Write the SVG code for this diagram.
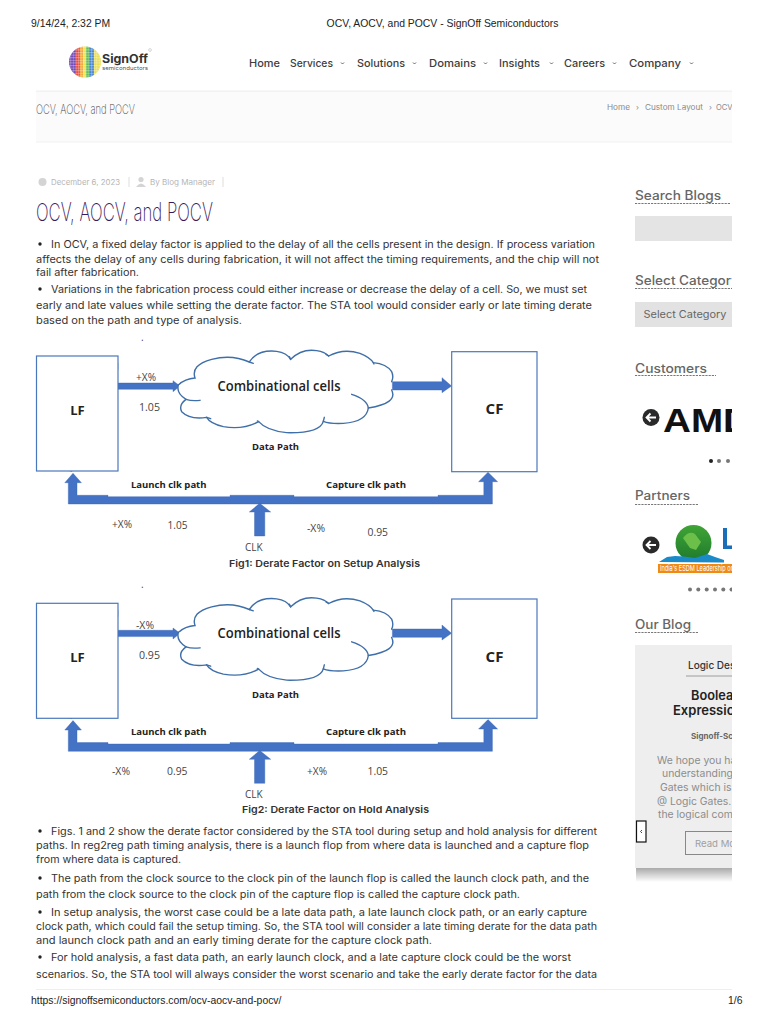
<svg xmlns="http://www.w3.org/2000/svg" width="768" height="1024" viewBox="0 0 768 1024">
<style>
text{font-family:"Inter","Noto Sans",sans-serif}
.hdr{font-family:"Liberation Sans",Arial,sans-serif;font-size:10.4px;fill:#222}
.nav{font-size:10.5px;fill:#3d3d3d;font-weight:500}
.chev{fill:none;stroke:#555;stroke-width:.9}
.crumb{font-size:7.6px;fill:#8a8a8a}
.meta{font-size:7.6px;fill:#b5b5b5}
.div{stroke:#ddd;stroke-width:1}
.body{font-size:10.4px;fill:#333}
.bul{fill:#222}
.box{fill:#fff;stroke:#4a78bd;stroke-width:1.2}
.arr{fill:#4472c4;stroke:#3a66b4;stroke-width:.4}
.cl{fill:none;stroke:#3f6fa8;stroke-width:4.2;stroke-linecap:round}
.fig{font-family:"Open Sans","Noto Sans",sans-serif;fill:#222}
.b{font-weight:700}
.n{font-size:10px;fill:#444}
.sm{font-size:9px;font-weight:700}
.cap{font-family:"Inter",sans-serif;font-size:9.6px;font-weight:600;fill:#333}
.wh{font-size:12.6px;fill:#666;font-weight:500}
.dash{stroke:#555;stroke-width:.8;stroke-dasharray:2.2 1}
.dot{fill:#777}
.blog{font-size:10.4px;fill:#8c8c8c}
</style>
<defs>
<clipPath id="page"><rect x="0" y="0" width="732" height="1024"/></clipPath>
<clipPath id="wafer"><ellipse cx="85" cy="62" rx="16" ry="15.5"/></clipPath>
<pattern id="grid" width="2.6" height="2.6" patternUnits="userSpaceOnUse"><rect x="0" y="0" width="1.1" height="2.6" fill="#fff" opacity=".25"/><rect x="0" y="0" width="2.6" height="1.1" fill="#fff" opacity=".35"/></pattern>
<linearGradient id="shadow" x1="0" y1="0" x2="0" y2="1"><stop offset="0" stop-color="#aaa"/><stop offset="1" stop-color="#fff"/></linearGradient>
<linearGradient id="globe" x1="0" y1="0" x2="0" y2="1"><stop offset="0" stop-color="#3fa535"/><stop offset="1" stop-color="#1f7a2d"/></linearGradient>
<g id="cloud">
<g transform="translate(170 340) scale(.3333)">
<path d="M25 135Q45 116 75 114Q62 75 125 58Q185 42 238 66Q262 28 320 34Q350 38 362 58Q395 25 440 32Q465 36 476 48Q520 24 570 40Q600 52 610 68Q650 72 665 95Q672 110 665 125" fill="#fff" class="cl"/>
<path d="M665 150Q685 190 595 204Q590 245 520 250Q480 252 460 244Q450 280 350 278Q290 272 266 245Q220 270 160 260Q120 250 110 232Q60 240 35 215Q25 195 48 178Q18 160 25 135Z" fill="#fff" stroke="none"/>
<path d="M665 150Q685 190 595 204Q590 245 520 250Q480 252 460 244Q450 280 350 278Q290 272 266 245Q220 270 160 260Q120 250 110 232Q60 240 35 215Q25 195 48 178Q18 160 25 135" class="cl"/>
<path d="M48 178Q65 184 90 181M595 204Q592 178 545 163M460 244L463 232M266 245L262 243M110 232L122 236M238 66L250 70M362 58L358 50M476 48L468 43M610 68L612 72" class="cl"/>
</g>
</g>
<g id="wires">
<polygon class="arr" points="118,383 173,383 173,380.7 180,386 173,391.7 173,389.3 118,389.3"/>
<polygon class="arr" points="392.4,381.7 442,381.7 442,377.7 451.5,386 442,392.7 442,390 392.4,390"/>
<polygon class="arr" points="68.3,504 68.3,482.7 64.8,482.7 73,473.3 81.4,482.7 77,482.7 77,495.3 108,495.3 108,496.7 230,496.7 230,495.3 294,495.3 294,496.7 438,496.7 438,495.3 483.8,495.3 483.8,481.7 478.6,481.7 488,472.3 497.6,481.7 492.4,481.7 492.4,504"/>
<polygon class="arr" points="254.5,536 254.5,512 249.3,512 259.7,503.3 270.7,512 264.8,512 264.8,536"/>
<polygon class="arr" points="118,363 118,369.5 114.5,366.5"/>
<polygon class="arr" points="66,470 72,467.5 72,471.5"/>
</g>
</defs>
<rect width="768" height="1024" fill="#fff"/>

<g id="page-header">
<text class="hdr" x="31" y="27">9/14/24, 2:32 PM</text>
<text class="hdr" x="442.5" y="27" text-anchor="middle">OCV, AOCV, and POCV - SignOff Semiconductors</text>
</g>

<g id="logo">
<g clip-path="url(#wafer)">
<rect x="68" y="46" width="8" height="32" fill="#6a3fb0"/>
<rect x="76" y="46" width="4" height="32" fill="#e8453a"/>
<rect x="80" y="46" width="3" height="32" fill="#f0a030"/>
<rect x="83" y="46" width="3" height="32" fill="#f0e040"/>
<rect x="86" y="46" width="3" height="32" fill="#58b848"/>
<rect x="89" y="46" width="5" height="32" fill="#3f7fd0"/>
<rect x="94" y="46" width="8" height="32" fill="#e8dc50"/>
<rect x="68" y="46" width="34" height="32" fill="url(#grid)"/>
</g>
<text x="102" y="63" font-size="11.8" font-weight="700" fill="#333" textLength="46" lengthAdjust="spacingAndGlyphs">SignOff</text>
<text x="102" y="69.5" font-size="5.2" fill="#555" textLength="46" lengthAdjust="spacingAndGlyphs">semiconductors</text>
<circle cx="150" cy="50" r="1.4" fill="none" stroke="#999" stroke-width=".4"/>
</g>

<g id="nav">
<text class="nav" x="249" y="66.5" textLength="31" lengthAdjust="spacingAndGlyphs">Home</text>
<text class="nav" x="290" y="66.5" textLength="43" lengthAdjust="spacingAndGlyphs">Services</text>
<text class="nav" x="357" y="66.5" textLength="48" lengthAdjust="spacingAndGlyphs">Solutions</text>
<text class="nav" x="429" y="66.5" textLength="47" lengthAdjust="spacingAndGlyphs">Domains</text>
<text class="nav" x="499" y="66.5" textLength="41" lengthAdjust="spacingAndGlyphs">Insights</text>
<text class="nav" x="564" y="66.5" textLength="41" lengthAdjust="spacingAndGlyphs">Careers</text>
<text class="nav" x="629" y="66.5" textLength="52" lengthAdjust="spacingAndGlyphs">Company</text>
<path class="chev" d="M341 62.5l1.5 1.5 1.5-1.5M413 62.5l1.5 1.5 1.5-1.5M484 62.5l1.5 1.5 1.5-1.5M550 62.5l1.5 1.5 1.5-1.5M613 62.5l1.5 1.5 1.5-1.5M690 62.5l1.5 1.5 1.5-1.5"/>
</g>

<g id="breadcrumb-band" clip-path="url(#page)">
<rect x="36" y="91" width="696" height="51" fill="#fbfbfb"/>
<rect x="36" y="90.5" width="696" height="1.5" fill="#f2f2f2"/>
<rect x="36" y="141.5" width="696" height="1" fill="#f2f2f2"/>
<text x="36" y="114" font-size="13" font-weight="200" fill="#444" textLength="99" lengthAdjust="spacingAndGlyphs">OCV, AOCV, and POCV</text>
<text class="crumb" x="607" y="109.5" textLength="23" lengthAdjust="spacingAndGlyphs">Home</text>
<text class="crumb" x="636" y="109.5">›</text>
<text class="crumb" x="645" y="109.5" textLength="58" lengthAdjust="spacingAndGlyphs">Custom Layout</text>
<text class="crumb" x="709" y="109.5">›</text>
<text class="crumb" x="716" y="109.5">OCV</text>
</g>

<g id="post-meta">
<circle cx="42.5" cy="182" r="4" fill="#d4d4d4"/>
<text class="meta" x="51" y="185" textLength="69" lengthAdjust="spacingAndGlyphs">December 6, 2023</text>
<line class="div" x1="129" y1="177" x2="129" y2="187"/>
<circle cx="141" cy="179.5" r="2.6" fill="#d4d4d4"/><path d="M136 187q5-7 10 0z" fill="#d4d4d4"/>
<text class="meta" x="150" y="185" textLength="65" lengthAdjust="spacingAndGlyphs">By Blog Manager</text>
<line class="div" x1="223" y1="177" x2="223" y2="187"/>
</g>

<text id="post-title" x="36" y="221" font-size="25" font-weight="200" fill="#3a1a5c" textLength="177" lengthAdjust="spacingAndGlyphs">OCV, AOCV, and POCV</text>

<g id="para-top">
<circle class="bul" cx="40" cy="244" r="1.7"/>
<text class="body" x="51" y="248" textLength="544" lengthAdjust="spacingAndGlyphs">In OCV, a fixed delay factor is applied to the delay of all the cells present in the design. If process variation</text>
<text class="body" x="36" y="262.5" textLength="563" lengthAdjust="spacingAndGlyphs">affects the delay of any cells during fabrication, it will not affect the timing requirements, and the chip will not</text>
<text class="body" x="36" y="276" textLength="103" lengthAdjust="spacingAndGlyphs">fail after fabrication.</text>
<circle class="bul" cx="40" cy="289" r="1.7"/>
<text class="body" x="51" y="293" textLength="536" lengthAdjust="spacingAndGlyphs">Variations in the fabrication process could either increase or decrease the delay of a cell. So, we must set</text>
<text class="body" x="36" y="308.5" textLength="556" lengthAdjust="spacingAndGlyphs">early and late values while setting the derate factor. The STA tool would consider early or late timing derate</text>
<text class="body" x="36" y="324" textLength="206" lengthAdjust="spacingAndGlyphs">based on the path and type of analysis.</text>
</g>

<g id="connectors">
<use href="#wires"/>
<use href="#wires" y="247.3"/>
</g>

<g id="fig1">
<text class="fig n" x="141" y="341">.</text>
<g id="fig1-lf"><rect class="box" x="36.5" y="356" width="81.5" height="115"/><text class="fig b" x="77.5" y="415" font-size="13" text-anchor="middle">LF</text></g>
<g id="fig1-cf"><rect class="box" x="451.7" y="351.7" width="85.3" height="120"/><text class="fig b" x="494.5" y="414" font-size="15" text-anchor="middle">CF</text></g>
<g id="fig1-cloud"><use href="#cloud"/><text class="fig" x="217.5" y="391" font-size="14" font-weight="600" textLength="123" lengthAdjust="spacingAndGlyphs">Combinational  cells</text></g>
<text class="fig n" x="136" y="381" textLength="20" lengthAdjust="spacingAndGlyphs">+X%</text>
<text class="fig n" x="139" y="411" textLength="21" lengthAdjust="spacingAndGlyphs">1.05</text>
<text class="fig sm" x="252" y="450" textLength="47" lengthAdjust="spacingAndGlyphs">Data Path</text>
<text class="fig sm" x="131" y="488" textLength="75.5" lengthAdjust="spacingAndGlyphs">Launch clk path</text>
<text class="fig sm" x="326" y="488" textLength="80" lengthAdjust="spacingAndGlyphs">Capture clk path</text>
<text class="fig n" x="112" y="528" textLength="20" lengthAdjust="spacingAndGlyphs">+X%</text>
<text class="fig n" x="167.5" y="528.5" textLength="20" lengthAdjust="spacingAndGlyphs">1.05</text>
<text class="fig n" x="307" y="532" textLength="18" lengthAdjust="spacingAndGlyphs">-X%</text>
<text class="fig n" x="367.5" y="536" textLength="20.5" lengthAdjust="spacingAndGlyphs">0.95</text>
<text class="fig n" x="245" y="550.5" textLength="17.5" lengthAdjust="spacingAndGlyphs">CLK</text>
<text class="cap" x="229" y="566.5" textLength="191" lengthAdjust="spacingAndGlyphs">Fig1: Derate Factor on Setup Analysis</text>
</g>

<g id="fig2">
<text class="fig n" x="141" y="588">.</text>
<g id="fig2-lf"><rect class="box" x="36.5" y="603.3" width="81.5" height="115"/><text class="fig b" x="77.5" y="662" font-size="13" text-anchor="middle">LF</text></g>
<g id="fig2-cf"><rect class="box" x="451.7" y="599" width="85.3" height="119.3"/><text class="fig b" x="494.5" y="661.5" font-size="15" text-anchor="middle">CF</text></g>
<g id="fig2-cloud"><use href="#cloud" y="247.5"/><text class="fig" x="217.5" y="638" font-size="14" font-weight="600" textLength="123" lengthAdjust="spacingAndGlyphs">Combinational  cells</text></g>
<text class="fig n" x="136" y="628.5" textLength="18" lengthAdjust="spacingAndGlyphs">-X%</text>
<text class="fig n" x="139" y="658.5" textLength="21" lengthAdjust="spacingAndGlyphs">0.95</text>
<text class="fig sm" x="252" y="697.5" textLength="47" lengthAdjust="spacingAndGlyphs">Data Path</text>
<text class="fig sm" x="131" y="735" textLength="75.5" lengthAdjust="spacingAndGlyphs">Launch clk path</text>
<text class="fig sm" x="326" y="735" textLength="80" lengthAdjust="spacingAndGlyphs">Capture clk path</text>
<text class="fig n" x="112" y="774.5" textLength="18" lengthAdjust="spacingAndGlyphs">-X%</text>
<text class="fig n" x="167" y="774.5" textLength="20.5" lengthAdjust="spacingAndGlyphs">0.95</text>
<text class="fig n" x="307" y="774.5" textLength="20" lengthAdjust="spacingAndGlyphs">+X%</text>
<text class="fig n" x="367.5" y="774.5" textLength="20.5" lengthAdjust="spacingAndGlyphs">1.05</text>
<text class="fig n" x="245" y="797.5" textLength="17.5" lengthAdjust="spacingAndGlyphs">CLK</text>
<text class="cap" x="242" y="813" textLength="187" lengthAdjust="spacingAndGlyphs">Fig2: Derate Factor on Hold Analysis</text>
</g>

<g id="para-bottom">
<circle class="bul" cx="40" cy="831" r="1.7"/>
<text class="body" x="51" y="835" textLength="546" lengthAdjust="spacingAndGlyphs">Figs. 1 and 2 show the derate factor considered by the STA tool during setup and hold analysis for different</text>
<text class="body" x="36" y="849" textLength="553" lengthAdjust="spacingAndGlyphs">paths. In reg2reg path timing analysis, there is a launch flop from where data is launched and a capture flop</text>
<text class="body" x="36" y="863" textLength="145" lengthAdjust="spacingAndGlyphs">from where data is captured.</text>
<circle class="bul" cx="40" cy="878" r="1.7"/>
<text class="body" x="51" y="882" textLength="538" lengthAdjust="spacingAndGlyphs">The path from the clock source to the clock pin of the launch flop is called the launch clock path, and the</text>
<text class="body" x="36" y="898" textLength="484" lengthAdjust="spacingAndGlyphs">path from the clock source to the clock pin of the capture flop is called the capture clock path.</text>
<circle class="bul" cx="40" cy="912" r="1.7"/>
<text class="body" x="51" y="916" textLength="536" lengthAdjust="spacingAndGlyphs">In setup analysis, the worst case could be a late data path, a late launch clock path, or an early capture</text>
<text class="body" x="36" y="930" textLength="561" lengthAdjust="spacingAndGlyphs">clock path, which could fail the setup timing. So, the STA tool will consider a late timing derate for the data path</text>
<text class="body" x="36" y="944" textLength="396" lengthAdjust="spacingAndGlyphs">and launch clock path and an early timing derate for the capture clock path.</text>
<circle class="bul" cx="40" cy="957" r="1.7"/>
<text class="body" x="51" y="961" textLength="520" lengthAdjust="spacingAndGlyphs">For hold analysis, a fast data path, an early launch clock, and a late capture clock could be the worst</text>
<text class="body" x="36" y="978" textLength="561" lengthAdjust="spacingAndGlyphs">scenarios. So, the STA tool will always consider the worst scenario and take the early derate factor for the data</text>
</g>

<g id="sidebar" clip-path="url(#page)">
<g id="search">
<text class="wh" x="635" y="199.5" textLength="86" lengthAdjust="spacingAndGlyphs">Search Blogs</text>
<line class="dash" x1="635" y1="203.5" x2="730" y2="203.5"/>
<rect x="635" y="216" width="97" height="25" fill="#e4e4e4"/>
</g>
<g id="category">
<text class="wh" x="635" y="285" textLength="104" lengthAdjust="spacingAndGlyphs">Select Category</text>
<line class="dash" x1="635" y1="288.5" x2="732" y2="288.5"/>
<rect x="635" y="302" width="97" height="25" fill="#e2e2e2"/>
<text x="643.5" y="318" font-size="10.2" fill="#666" textLength="83" lengthAdjust="spacingAndGlyphs">Select Category</text>
</g>
<g id="customers">
<text class="wh" x="635" y="372.5" textLength="72" lengthAdjust="spacingAndGlyphs">Customers</text>
<line class="dash" x1="635" y1="375.5" x2="716" y2="375.5"/>
<circle cx="651" cy="417.5" r="8.5" fill="#2a2a2a"/>
<path d="M656 417.5H647M650.5 413.5l-4 4 4 4" fill="none" stroke="#fff" stroke-width="1.8"/>
<text x="663" y="432" font-size="33" font-weight="700" fill="#111" textLength="88" lengthAdjust="spacingAndGlyphs" style="font-family:'Liberation Sans',sans-serif">AMD</text>
<circle cx="711" cy="461" r="2" fill="#222"/><circle class="dot" cx="719" cy="461" r="2"/><circle class="dot" cx="728" cy="461" r="2"/>
</g>
<g id="partners">
<text class="wh" x="635" y="499.5" textLength="55" lengthAdjust="spacingAndGlyphs">Partners</text>
<line class="dash" x1="635" y1="504.5" x2="699" y2="504.5"/>
<circle cx="651" cy="545" r="8.5" fill="#2a2a2a"/>
<path d="M656 545H647M650.5 541l-4 4 4 4" fill="none" stroke="#fff" stroke-width="1.8"/>
<circle cx="693.5" cy="543" r="18" fill="url(#globe)"/>
<path d="M683 538q6-8 12-4l6 8-5 8-6-2z" fill="#6cc04a"/>
<polygon points="659,562 667,557 675,556 684,556.5 695,558 707,554 715,557 724,560 724,562.5" fill="#1b8ac9"/>
<rect x="723" y="528" width="4" height="21" fill="#1a6fb8"/><rect x="723" y="545.5" width="9" height="3.5" fill="#1a6fb8"/>
<rect x="658" y="564" width="74" height="9" fill="#f08a14"/>
<text x="660" y="571.3" font-size="8" fill="#fff" textLength="74" lengthAdjust="spacingAndGlyphs">India's ESDM Leadership on</text>
<circle class="dot" cx="690" cy="589.5" r="2"/><circle class="dot" cx="698.3" cy="589.5" r="2"/><circle class="dot" cx="706.7" cy="589.5" r="2"/><circle class="dot" cx="715" cy="589.5" r="2"/><circle class="dot" cx="723.3" cy="589.5" r="2"/><circle class="dot" cx="731.5" cy="589.5" r="2"/>
</g>
<g id="blog">
<text class="wh" x="635" y="628.5" textLength="56" lengthAdjust="spacingAndGlyphs">Our Blog</text>
<line class="dash" x1="635" y1="632.5" x2="699" y2="632.5"/>
<rect x="636" y="868" width="96" height="14" fill="url(#shadow)"/>
<rect x="635" y="645" width="97" height="223" fill="#eee"/>
<text x="688" y="669" font-size="10.2" font-weight="500" fill="#333" textLength="62" lengthAdjust="spacingAndGlyphs">Logic Design</text>
<line x1="686" y1="676" x2="732" y2="676" stroke="#888" stroke-width=".8"/>
<text x="691" y="700" font-size="13" font-weight="600" fill="#222" textLength="50" lengthAdjust="spacingAndGlyphs">Boolean</text>
<text x="673" y="715" font-size="13" font-weight="600" fill="#222">Expressions</text>
<text x="691" y="739" font-size="7.6" font-weight="700" fill="#666" textLength="42" lengthAdjust="spacingAndGlyphs">Signoff-Sc</text>
<text class="blog" x="657" y="763.5">We hope you have</text>
<text class="blog" x="662" y="777">understanding</text>
<text class="blog" x="660" y="791">Gates which is</text>
<text class="blog" x="657" y="804.5">@ Logic Gates. T</text>
<text class="blog" x="658" y="818">the logical com</text>
<rect x="685.5" y="831.5" width="60" height="23" fill="none" stroke="#888" stroke-width="1"/>
<text x="695" y="846.5" font-size="9.6" fill="#a0a0a0">Read More</text>
<rect x="636.5" y="821" width="9.5" height="21" fill="#fff" stroke="#111" stroke-width="1.2"/>
<path d="M642 830l-1.5 1.5 1.5 1.5" fill="none" stroke="#333" stroke-width=".9"/>
</g>
</g>

<g id="page-footer">
<line x1="36" y1="989.5" x2="732" y2="989.5" stroke="#eee" stroke-width="1"/>
<text class="hdr" x="31" y="1004">https://signoffsemiconductors.com/ocv-aocv-and-pocv/</text>
<text class="hdr" x="728" y="1004">1/6</text>
</g>
</svg>
